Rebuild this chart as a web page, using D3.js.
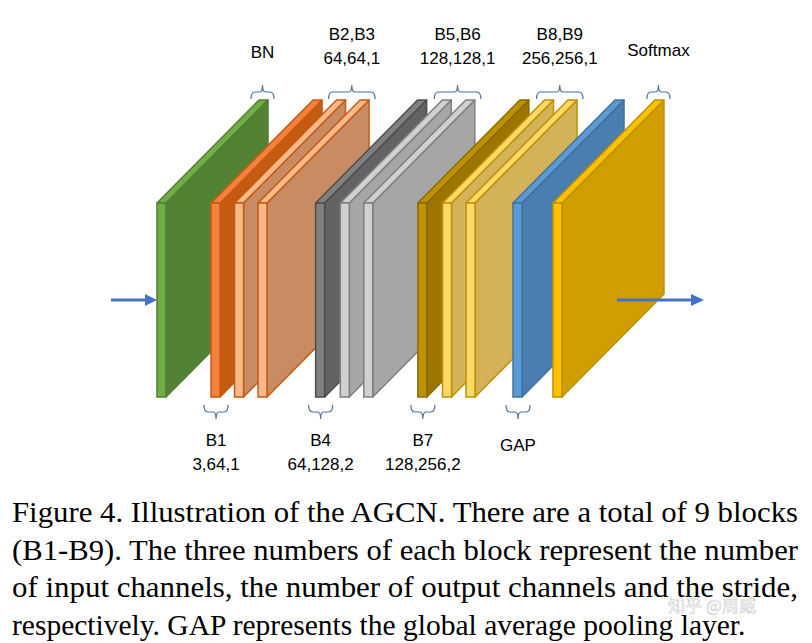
<!DOCTYPE html>
<html><head><meta charset="utf-8">
<script src="https://cdn.jsdelivr.net/npm/d3@7"></script>
<style>body{margin:0;background:#fff}</style>
</head><body><svg id="c" width="812" height="643"></svg>
<script>
// slab order, left to right, position in "slot" units
var layers = ["BN","B1","B2","B3","B4","B5","B6","B7","B8","B9","GAP","Softmax"];
var slots  = [0, 2.3, 3.3, 4.3, 6.75, 7.8, 8.8, 11.1, 12.15, 13.15, 15.15, 16.85];
var strip  = ["#70ad47","#f4823c","#f8b98a","#f8b98a","#808080","#d0d0d0","#d0d0d0","#bf9000","#ffd966","#ffd966","#5b9bd5","#ffc000"];
var face   = ["#548235","#c55a11","#c98b63","#c98b63","#636363","#a6a6a6","#a6a6a6","#9c7600","#d4b25a","#d4b25a","#4a7eb0","#d09e00"];
var edge   = ["#507e32","#c55a11","#c55a11","#c55a11","#4d4d4d","#7f7f7f","#7f7f7f","#8a6a00","#bf9000","#bf9000","#41719c","#bf9000"];
var topLabels = [["BN"],["B2,B3","64,64,1"],["B5,B6","128,128,1"],["B8,B9","256,256,1"],["Softmax"]];
var topSpan   = [[0,0],[2,3],[5,6],[8,9],[11,11]];
var botLabels = [["B1","3,64,1"],["B4","64,128,2"],["B7","128,256,2"],["GAP"]];
var botSpan   = [1,4,7,10];
var caption = ["Figure 4. Illustration of the AGCN. There are a total of 9 blocks",
  "(B1-B9).  The three numbers of each block represent the number",
  "of input channels, the number of output channels and the stride,",
  "respectively. GAP represents the global average pooling layer."];

var svg = d3.select("#c");
var x = d3.scaleLinear().domain([0,1]).range([157,180.5]);
var yF = 203, yB = 397, w = 9, dx = 102, dy = -103;

layers.forEach(function(n,i){
  var x0 = x(slots[i]);
  var g = svg.append("g");
  g.append("polygon").attr("points",[[x0+w,yF],[x0+w+dx,yF+dy],[x0+w+dx,yB+dy],[x0+w,yB]].join(" "))
    .attr("fill",face[i]).attr("stroke",edge[i]).attr("stroke-width",1.5).attr("stroke-linejoin","round");
  g.append("polygon").attr("points",[[x0,yF],[x0+dx,yF+dy],[x0+w+dx,yF+dy],[x0+w,yF]].join(" "))
    .attr("fill",strip[i]).attr("stroke",edge[i]).attr("stroke-width",1.5).attr("stroke-linejoin","round");
  g.append("rect").attr("x",x0).attr("y",yF).attr("width",w).attr("height",yB-yF)
    .attr("fill",strip[i]).attr("stroke",edge[i]).attr("stroke-width",1.5);
});

function brace(x1,x2,y,up){
  var s = up ? -1 : 1, m=(x1+x2)/2, h=7;
  return "M"+x1+","+(y-s*h)+" Q"+x1+","+y+" "+(x1+4)+","+y+" L"+(m-3)+","+y+" Q"+m+","+y+" "+m+","+(y+s*h)
    +" Q"+m+","+y+" "+(m+3)+","+y+" L"+(x2-4)+","+y+" Q"+x2+","+y+" "+x2+","+(y-s*h);
}
var bc = "#4a6fa5";
topSpan.forEach(function(sp,k){
  var a = x(slots[sp[0]])+dx-8, b = x(slots[sp[1]])+dx+w+6;
  svg.append("path").attr("d",brace(a,b,92,true)).attr("fill","none").attr("stroke",bc).attr("stroke-width",1.2);
  var ys = topLabels[k].length==2 ? [40,64] : [k==0?58:56];
  topLabels[k].forEach(function(t,j){
    svg.append("text").attr("x",(a+b)/2).attr("y",ys[j]).attr("text-anchor","middle")
      .attr("font-family","Liberation Sans, Arial").attr("font-size",17).text(t);
  });
});
botSpan.forEach(function(s,k){
  var a = x(slots[s])-7, b = x(slots[s])+w+8;
  svg.append("path").attr("d",brace(a,b,412,false)).attr("fill","none").attr("stroke",bc).attr("stroke-width",1.2);
  var ys = botLabels[k].length==2 ? [446,470] : [451];
  botLabels[k].forEach(function(t,j){
    svg.append("text").attr("x",(a+b)/2).attr("y",ys[j]).attr("text-anchor","middle")
      .attr("font-family","Liberation Sans, Arial").attr("font-size",17).text(t);
  });
});

var ac = "#4472c4";
svg.append("line").attr("x1",111).attr("y1",300).attr("x2",146).attr("y2",300).attr("stroke",ac).attr("stroke-width",3);
svg.append("polygon").attr("points","145,294 157,300 145,306").attr("fill",ac);
svg.append("line").attr("x1",617).attr("y1",300).attr("x2",692).attr("y2",300).attr("stroke",ac).attr("stroke-width",3);
svg.append("polygon").attr("points","691,294 704,300 691,306").attr("fill",ac);

caption.forEach(function(t,i){
  var tx = svg.append("text").attr("x",12).attr("y",522+i*37.5)
    .attr("font-family","Liberation Serif, Times New Roman").attr("font-size",29.5).text(t);
  if(i<3) tx.attr("textLength",786).attr("lengthAdjust","spacingAndGlyphs");
});
svg.append("text").attr("x",668).attr("y",612).attr("font-family","Noto Sans CJK SC").attr("font-size",17)
  .attr("fill","none").attr("stroke","#bbb").attr("stroke-width",0.6).attr("opacity",0.7).text("知乎 @周威");
</script></body></html>
